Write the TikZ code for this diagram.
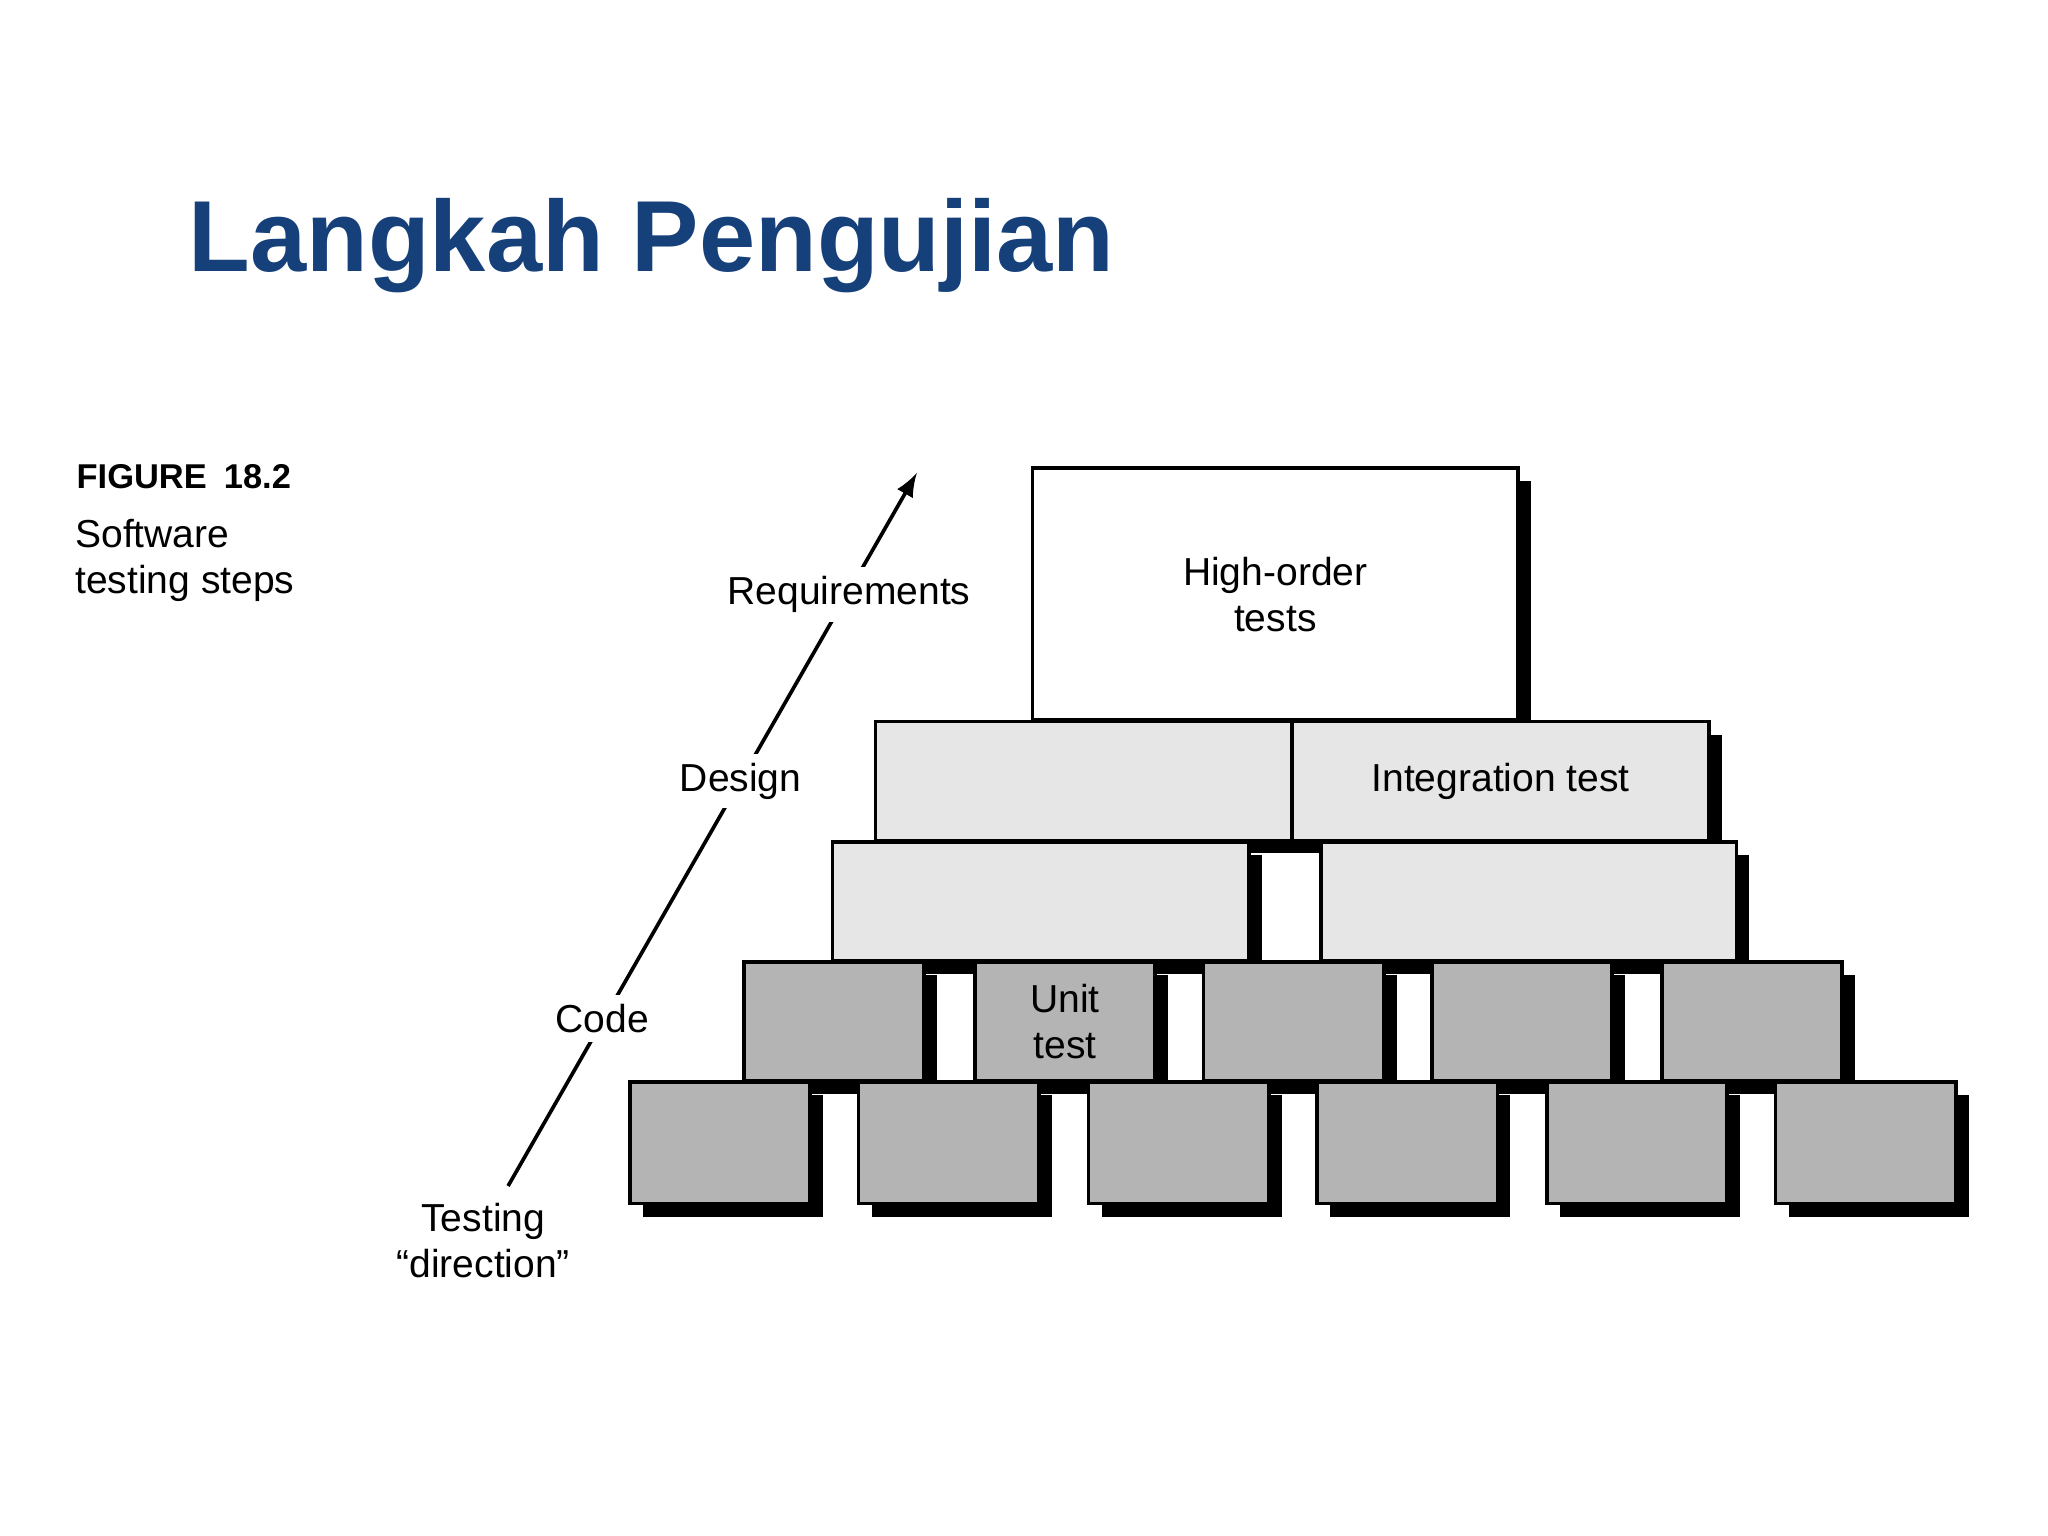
\documentclass[tikz,border=0pt]{standalone}
\usepackage{fontspec}
\setmainfont{Liberation Sans}
\usetikzlibrary{shadows}
\definecolor{titleblue}{RGB}{22,64,122}
\definecolor{lightbrick}{RGB}{230,230,230}
\definecolor{darkbrick}{RGB}{180,180,180}
\tikzset{
  brick/.style={draw=black, line width=0.8pt, inner sep=0pt, anchor=north west,
    align=center, font=\fontsize{8.5}{10}\selectfont,
    drop shadow={shadow xshift=0.1cm, shadow yshift=-0.1cm, fill=black, opacity=1}},
  steplabel/.style={fill=white, inner sep=2pt, align=center, font=\fontsize{8.5}{10}\selectfont}
}
\begin{document}
\begin{tikzpicture}[x=0.1mm, y=-0.1mm]
  \useasboundingbox (0,0) rectangle (1568,1176);

  % Titel
  \node[anchor=west, text=titleblue, font=\fontsize{22}{26}\bfseries\selectfont] (title) at (132,188) {Langkah Pengujian};

  % Keterangan gambar
  \node[anchor=north west, font=\fontsize{7.5}{9}\bfseries\selectfont, inner sep=0pt] (fig) at (58,355) {FIGURE\enspace 18.2};
  \node[anchor=north west, align=left, font=\fontsize{8.5}{10}\selectfont, inner sep=0pt] (caption) at (57,397) {Software\\testing steps};

  % Baris atas
  \node[brick, fill=white, minimum width=3.72cm, minimum height=1.93cm] (high) at (789,357) {High-order\\tests};

  % Baris integrasi
  \node[brick, fill=lightbrick, minimum width=3.19cm, minimum height=0.91cm] (intA) at (669,551) {};
  \node[brick, fill=lightbrick, minimum width=3.19cm, minimum height=0.91cm] (intB) at (988,551) {Integration test};
  \node[brick, fill=lightbrick, minimum width=3.19cm, minimum height=0.91cm] (intC) at (636,643) {};
  \node[brick, fill=lightbrick, minimum width=3.18cm, minimum height=0.91cm] (intD) at (1010,643) {};

  % Unit test
  \foreach \x/\t [count=\i] in {568/, 745/{Unit\\test}, 920/, 1095/, 1271/}
    \node[brick, fill=darkbrick, minimum width=1.38cm, minimum height=0.91cm] (unit\i) at (\x,735) {\t};
  \foreach \x [count=\i] in {481, 656, 832, 1007, 1183, 1358}
    \node[brick, fill=darkbrick, minimum width=1.38cm, minimum height=0.93cm] (base\i) at (\x,827) {};

  % Arah pengujian
  \coordinate (start) at (389,908);
  \coordinate (end) at (702,362);
  \draw[-latex, line width=0.8pt] (start) -- (end);
  \node[steplabel] (code) at (461,780) {Code};
  \node[steplabel] (design) at (567,598) {Design};
  \node[steplabel] (req) at (650,455) {Requirements};
  \node[align=center, font=\fontsize{8.5}{10}\selectfont] (dir) at (370,950) {Testing\\``direction''};

\end{tikzpicture}
\end{document}
